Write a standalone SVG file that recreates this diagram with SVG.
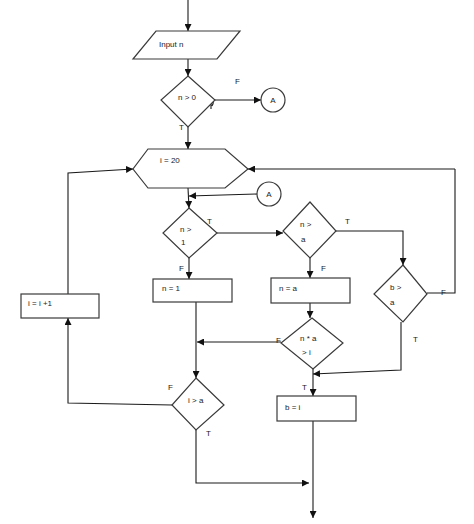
<svg xmlns="http://www.w3.org/2000/svg" width="474" height="524" viewBox="0 0 474 524">
<defs>
<marker id="ah" viewBox="0 0 10 10" refX="10" refY="5" markerWidth="7" markerHeight="7" orient="auto" markerUnits="userSpaceOnUse">
<path d="M0,0 L10,5 L0,10 z" fill="#111"/>
</marker>
<style>
.s{fill:#fff;stroke:#3a3a3a;stroke-width:1.2}
.c{fill:none;stroke:#1a1a1a;stroke-width:1.1}
.t{font-family:"Liberation Sans",Arial,sans-serif;font-size:8px;fill:#222}
</style>
</defs>
<rect width="474" height="524" fill="#fff"/>
<g id="connectors">
<path class="c" d="M188,0 L188,31" marker-end="url(#ah)"/>
<path class="c" d="M188,59 L188,76" marker-end="url(#ah)"/>
<path class="c" d="M215,100 L261,100" marker-end="url(#ah)"/>
<path class="c" d="M211,98 L211,109 M211,99 Q215,101 212,106"/>
<path class="c" d="M188,127 L188,149" marker-end="url(#ah)"/>
<path class="c" d="M455,169 L455,293 L427,293"/>
<path class="c" d="M455,169 L248,169" marker-end="url(#ah)"/>
<path class="c" d="M68,294 L68,173 L133,169" marker-end="url(#ah)"/>
<path class="c" d="M188,188 L189,208" marker-end="url(#ah)"/>
<path class="c" d="M257,194 L189,196" marker-end="url(#ah)"/>
<path class="c" d="M217,233 L283,233" marker-end="url(#ah)"/>
<path class="c" d="M189,258 L189,279" marker-end="url(#ah)"/>
<path class="c" d="M336,231 L403,231 L403,265" marker-end="url(#ah)"/>
<path class="c" d="M310,258 L310,278" marker-end="url(#ah)"/>
<path class="c" d="M310,303 L310,318" marker-end="url(#ah)"/>
<path class="c" d="M196,302 L196,378" marker-end="url(#ah)"/>
<path class="c" d="M281,342 L197,342" marker-end="url(#ah)"/>
<path class="c" d="M401,322 L401,370 L313,374" marker-end="url(#ah)"/>
<path class="c" d="M313,369 L313,396" marker-end="url(#ah)"/>
<path class="c" d="M172,405 L68,403 L68,318" marker-end="url(#ah)"/>
<path class="c" d="M196,430 L196,483 L309,483" marker-end="url(#ah)"/>
<path class="c" d="M313,421 L313,518" marker-end="url(#ah)"/>
<text class="t" x="235" y="84">F</text>
<text class="t" x="179" y="130">T</text>
<text class="t" x="207" y="224">T</text>
<text class="t" x="179" y="271">F</text>
<text class="t" x="345" y="224">T</text>
<text class="t" x="321" y="271">F</text>
<text class="t" x="441" y="295">F</text>
<text class="t" x="276" y="343">F</text>
<text class="t" x="413" y="342">T</text>
<text class="t" x="302" y="390">T</text>
<text class="t" x="168" y="390">F</text>
<text class="t" x="206" y="436">T</text>
</g>
<g id="input">
<polygon class="s" points="156,31 240,31 217,59 133,59"/>
<text class="t" x="159" y="47">Input n</text>
</g>
<g id="dec-n0">
<polygon class="s" points="188,76 215,100 188,127 161,100"/>
<text class="t" x="178" y="100">n &gt; 0</text>
</g>
<g id="conn-a1">
<circle class="s" cx="273" cy="100" r="12"/>
<text class="t" x="273" y="103" text-anchor="middle">A</text>
</g>
<g id="init-i">
<polygon class="s" points="148,149 225,149 248,169 225,188 148,188 133,169"/>
<text class="t" x="160" y="163">i = 20</text>
</g>
<g id="conn-a2">
<circle class="s" cx="269" cy="194" r="12"/>
<text class="t" x="269" y="197" text-anchor="middle">A</text>
</g>
<g id="dec-n1">
<polygon class="s" points="189,208 217,233 189,258 163,233"/>
<text class="t" x="180" y="232">n &gt;</text>
<text class="t" x="181" y="245">1</text>
</g>
<g id="dec-na">
<polygon class="s" points="310,202 336,231 310,258 283,231"/>
<text class="t" x="300" y="227">n &gt;</text>
<text class="t" x="301" y="242">a</text>
</g>
<g id="dec-ba">
<polygon class="s" points="403,265 427,294 403,322 374,294"/>
<text class="t" x="390" y="290">b &gt;</text>
<text class="t" x="390" y="305">a</text>
</g>
<g id="set-n1">
<rect class="s" x="153" y="279" width="79" height="23"/>
<text class="t" x="162" y="291">n = 1</text>
</g>
<g id="set-na">
<rect class="s" x="271" y="278" width="79" height="25"/>
<text class="t" x="279" y="291">n = a</text>
</g>
<g id="inc-i">
<rect class="s" x="21" y="294" width="78" height="24"/>
<text class="t" x="28" y="306">i = i +1</text>
</g>
<g id="dec-nai">
<polygon class="s" points="312,318 343,343 313,369 281,343"/>
<text class="t" x="300" y="341">n * a</text>
<text class="t" x="302" y="355">&gt; i</text>
</g>
<g id="dec-ia">
<polygon class="s" points="196,378 224,405 196,430 172,405"/>
<text class="t" x="188" y="403">i &gt; a</text>
</g>
<g id="set-bi">
<rect class="s" x="277" y="396" width="79" height="25"/>
<text class="t" x="285" y="410">b = i</text>
</g>
</svg>
